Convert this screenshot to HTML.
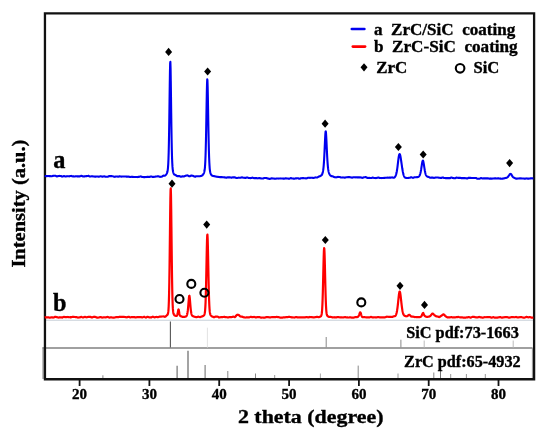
<!DOCTYPE html>
<html><head><meta charset="utf-8"><style>
html,body{margin:0;padding:0;background:#fff;}
svg{display:block;}
text{font-family:"Liberation Serif","Times New Roman",serif;font-weight:bold;fill:#000;stroke:#000;stroke-width:0.35px;}
</style></head><body>
<svg width="550" height="436" viewBox="0 0 550 436">
<rect x="0" y="0" width="550" height="436" fill="#fff"/>
<!-- reference boxes -->
<line x1="46" y1="320.2" x2="533" y2="320.2" stroke="#c9d0d8" stroke-width="1.1"/>
<line x1="42.5" y1="348" x2="532.5" y2="348" stroke="#808080" stroke-width="1.6"/>
<line x1="532.4" y1="347.9" x2="532.4" y2="378" stroke="#999" stroke-width="1"/>
<line x1="170.4" y1="321.5" x2="170.4" y2="347.5" stroke="#555" stroke-width="1.1"/>
<line x1="207.4" y1="327.7" x2="207.4" y2="347.5" stroke="#e2e2e2" stroke-width="1.0"/>
<line x1="326.2" y1="337.0" x2="326.2" y2="347.5" stroke="#888" stroke-width="1.0"/>
<line x1="400.9" y1="339.7" x2="400.9" y2="347.5" stroke="#888" stroke-width="1.0"/>
<line x1="424.2" y1="340.5" x2="424.2" y2="347.5" stroke="#bbb" stroke-width="1.0"/>
<line x1="513.2" y1="340.5" x2="513.2" y2="347.5" stroke="#bbb" stroke-width="1.0"/>
<line x1="102.9" y1="375.3" x2="102.9" y2="378.5" stroke="#888" stroke-width="1.0"/>
<line x1="177.1" y1="365.7" x2="177.1" y2="378.5" stroke="#666" stroke-width="1.1"/>
<line x1="188.0" y1="350.8" x2="188.0" y2="378.5" stroke="#666" stroke-width="1.2"/>
<line x1="205.1" y1="365.0" x2="205.1" y2="378.5" stroke="#777" stroke-width="1.1"/>
<line x1="227.8" y1="371.0" x2="227.8" y2="378.5" stroke="#888" stroke-width="1.0"/>
<line x1="255.5" y1="373.5" x2="255.5" y2="378.5" stroke="#888" stroke-width="1.0"/>
<line x1="274.7" y1="375.0" x2="274.7" y2="378.5" stroke="#999" stroke-width="1.0"/>
<line x1="320.4" y1="373.5" x2="320.4" y2="378.5" stroke="#aaa" stroke-width="1.0"/>
<line x1="358.2" y1="365.6" x2="358.2" y2="378.5" stroke="#888" stroke-width="1.0"/>
<line x1="398.0" y1="373.5" x2="398.0" y2="378.5" stroke="#999" stroke-width="1.0"/>
<line x1="433.8" y1="372.5" x2="433.8" y2="378.5" stroke="#888" stroke-width="1.0"/>
<line x1="440.5" y1="368.5" x2="440.5" y2="378.5" stroke="#777" stroke-width="1.0"/>
<line x1="450.7" y1="374.0" x2="450.7" y2="378.5" stroke="#999" stroke-width="1.0"/>
<line x1="466.4" y1="374.0" x2="466.4" y2="378.5" stroke="#999" stroke-width="1.0"/>
<line x1="485.3" y1="374.0" x2="485.3" y2="378.5" stroke="#999" stroke-width="1.0"/>
<!-- frame -->
<line x1="43.1" y1="347.3" x2="43.1" y2="379" stroke="#8a8a8a" stroke-width="1.3"/>
<path d="M44.95,13.35 H534.1 V379.25 H44.95 Z" fill="none" stroke="#111" stroke-width="2.3" stroke-linejoin="miter"/>
<!-- curves -->
<polyline points="44.69,175.88 44.90,175.93 45.11,175.96 45.32,175.94 45.53,176.04 45.74,176.08 45.95,176.07 46.16,176.12 46.37,176.10 46.58,176.17 46.78,176.14 46.99,176.15 47.20,176.11 47.41,176.07 47.62,176.06 47.83,176.02 48.04,175.97 48.25,176.01 48.46,175.97 48.67,176.00 48.88,176.10 49.09,176.06 49.30,176.10 49.51,176.13 49.72,176.23 49.93,176.17 50.14,176.15 50.35,176.24 50.55,176.17 50.76,176.24 50.97,176.23 51.18,176.25 51.39,176.27 51.60,176.23 51.81,176.25 52.02,176.13 52.23,176.15 52.44,176.04 52.65,175.98 52.86,175.84 53.07,175.85 53.28,175.83 53.49,175.74 53.70,175.76 53.91,175.78 54.12,175.80 54.33,175.74 54.53,175.72 54.74,175.73 54.95,175.76 55.16,175.77 55.37,175.76 55.58,175.82 55.79,175.93 56.00,176.04 56.21,176.17 56.42,176.25 56.63,176.37 56.84,176.46 57.05,176.40 57.26,176.40 57.47,176.27 57.68,176.25 57.89,176.17 58.10,176.08 58.30,176.00 58.51,175.96 58.72,175.97 58.93,176.00 59.14,175.92 59.35,175.91 59.56,175.98 59.77,175.99 59.98,175.95 60.19,175.94 60.40,175.97 60.61,175.94 60.82,176.01 61.03,176.09 61.24,176.24 61.45,176.33 61.66,176.42 61.87,176.54 62.08,176.60 62.28,176.53 62.49,176.54 62.70,176.46 62.91,176.43 63.12,176.32 63.33,176.22 63.54,176.16 63.75,176.11 63.96,176.15 64.17,176.15 64.38,176.17 64.59,176.24 64.80,176.29 65.01,176.39 65.22,176.37 65.43,176.49 65.64,176.44 65.85,176.45 66.05,176.41 66.26,176.40 66.47,176.35 66.68,176.27 66.89,176.21 67.10,176.20 67.31,176.20 67.52,176.16 67.73,176.20 67.94,176.24 68.15,176.22 68.36,176.22 68.57,176.24 68.78,176.31 68.99,176.32 69.20,176.35 69.41,176.32 69.62,176.21 69.83,176.14 70.03,176.07 70.24,176.00 70.45,175.99 70.66,175.97 70.87,175.96 71.08,175.91 71.29,176.01 71.50,176.01 71.71,176.10 71.92,176.20 72.13,176.20 72.34,176.25 72.55,176.34 72.76,176.30 72.97,176.32 73.18,176.37 73.39,176.41 73.60,176.38 73.80,176.44 74.01,176.48 74.22,176.50 74.43,176.48 74.64,176.50 74.85,176.50 75.06,176.40 75.27,176.37 75.48,176.28 75.69,176.25 75.90,176.26 76.11,176.20 76.32,176.28 76.53,176.30 76.74,176.25 76.95,176.37 77.16,176.34 77.37,176.41 77.58,176.43 77.78,176.40 77.99,176.44 78.20,176.43 78.41,176.44 78.62,176.38 78.83,176.42 79.04,176.43 79.25,176.39 79.46,176.37 79.67,176.33 79.88,176.34 80.09,176.27 80.30,176.23 80.51,176.13 80.72,176.03 80.93,175.92 81.14,175.92 81.35,175.90 81.55,175.88 81.76,176.01 81.97,176.07 82.18,176.12 82.39,176.30 82.60,176.31 82.81,176.40 83.02,176.47 83.23,176.46 83.44,176.45 83.65,176.44 83.86,176.40 84.07,176.36 84.28,176.32 84.49,176.29 84.70,176.35 84.91,176.35 85.12,176.32 85.33,176.31 85.53,176.23 85.74,176.18 85.95,176.15 86.16,176.17 86.37,176.06 86.58,176.10 86.79,176.07 87.00,176.10 87.21,176.03 87.42,175.99 87.63,175.95 87.84,175.93 88.05,175.93 88.26,175.88 88.47,175.94 88.68,175.92 88.89,176.03 89.10,176.13 89.30,176.25 89.51,176.44 89.72,176.52 89.93,176.52 90.14,176.53 90.35,176.54 90.56,176.54 90.77,176.49 90.98,176.43 91.19,176.36 91.40,176.26 91.61,176.26 91.82,176.23 92.03,176.27 92.24,176.29 92.45,176.29 92.66,176.33 92.87,176.42 93.08,176.38 93.28,176.48 93.49,176.50 93.70,176.51 93.91,176.47 94.12,176.50 94.33,176.53 94.54,176.56 94.75,176.62 94.96,176.61 95.17,176.58 95.38,176.64 95.59,176.60 95.80,176.60 96.01,176.59 96.22,176.50 96.43,176.55 96.64,176.52 96.85,176.49 97.06,176.49 97.26,176.50 97.47,176.49 97.68,176.55 97.89,176.53 98.10,176.61 98.31,176.65 98.52,176.66 98.73,176.68 98.94,176.72 99.15,176.68 99.36,176.55 99.57,176.54 99.78,176.45 99.99,176.32 100.20,176.29 100.41,176.25 100.62,176.23 100.83,176.30 101.03,176.38 101.24,176.37 101.45,176.49 101.66,176.53 101.87,176.53 102.08,176.63 102.29,176.62 102.50,176.65 102.71,176.60 102.92,176.56 103.13,176.47 103.34,176.47 103.55,176.43 103.76,176.39 103.97,176.34 104.18,176.38 104.39,176.38 104.60,176.40 104.81,176.46 105.01,176.54 105.22,176.63 105.43,176.68 105.64,176.75 105.85,176.77 106.06,176.76 106.27,176.74 106.48,176.76 106.69,176.72 106.90,176.73 107.11,176.75 107.32,176.71 107.53,176.69 107.74,176.74 107.95,176.67 108.16,176.54 108.37,176.43 108.58,176.33 108.78,176.23 108.99,176.12 109.20,176.07 109.41,176.09 109.62,176.15 109.83,176.09 110.04,176.13 110.25,176.11 110.46,176.12 110.67,176.12 110.88,176.15 111.09,176.13 111.30,176.12 111.51,176.14 111.72,176.16 111.93,176.21 112.14,176.18 112.35,176.18 112.56,176.24 112.76,176.24 112.97,176.29 113.18,176.28 113.39,176.41 113.60,176.52 113.81,176.60 114.02,176.79 114.23,176.79 114.44,176.82 114.65,176.85 114.86,176.79 115.07,176.78 115.28,176.68 115.49,176.58 115.70,176.50 115.91,176.51 116.12,176.44 116.33,176.48 116.53,176.46 116.74,176.53 116.95,176.49 117.16,176.52 117.37,176.55 117.58,176.63 117.79,176.63 118.00,176.61 118.21,176.57 118.42,176.61 118.63,176.60 118.84,176.52 119.05,176.41 119.26,176.37 119.47,176.35 119.68,176.34 119.89,176.33 120.10,176.35 120.31,176.44 120.51,176.49 120.72,176.45 120.93,176.56 121.14,176.54 121.35,176.58 121.56,176.60 121.77,176.60 121.98,176.50 122.19,176.51 122.40,176.52 122.61,176.54 122.82,176.44 123.03,176.46 123.24,176.51 123.45,176.44 123.66,176.46 123.87,176.46 124.08,176.49 124.28,176.51 124.49,176.43 124.70,176.49 124.91,176.49 125.12,176.50 125.33,176.49 125.54,176.55 125.75,176.53 125.96,176.57 126.17,176.59 126.38,176.67 126.59,176.66 126.80,176.64 127.01,176.64 127.22,176.69 127.43,176.68 127.64,176.69 127.85,176.66 128.06,176.68 128.26,176.64 128.47,176.70 128.68,176.64 128.89,176.72 129.10,176.79 129.31,176.83 129.52,176.82 129.73,176.87 129.94,176.97 130.15,176.96 130.36,176.99 130.57,176.97 130.78,176.91 130.99,176.92 131.20,176.88 131.41,176.81 131.62,176.79 131.83,176.75 132.03,176.78 132.24,176.85 132.45,176.79 132.66,176.87 132.87,176.86 133.08,176.90 133.29,176.98 133.50,176.96 133.71,176.95 133.92,176.96 134.13,177.01 134.34,177.00 134.55,176.93 134.76,176.94 134.97,177.01 135.18,176.93 135.39,176.96 135.60,176.95 135.81,177.00 136.01,176.99 136.22,177.03 136.43,177.03 136.64,177.01 136.85,177.03 137.06,177.03 137.27,177.11 137.48,177.02 137.69,176.98 137.90,177.04 138.11,176.92 138.32,176.94 138.53,176.82 138.74,176.84 138.95,176.80 139.16,176.85 139.37,176.79 139.58,176.73 139.78,176.67 139.99,176.61 140.20,176.49 140.41,176.47 140.62,176.43 140.83,176.41 141.04,176.52 141.25,176.58 141.46,176.70 141.67,176.74 141.88,176.88 142.09,176.95 142.30,177.02 142.51,176.96 142.72,177.00 142.93,177.02 143.14,176.99 143.35,177.06 143.56,177.09 143.76,177.07 143.97,177.11 144.18,177.11 144.39,177.07 144.60,177.08 144.81,177.13 145.02,177.06 145.23,177.06 145.44,177.02 145.65,177.03 145.86,177.02 146.07,177.09 146.28,177.05 146.49,177.03 146.70,177.00 146.91,176.91 147.12,176.89 147.33,176.82 147.53,176.79 147.74,176.84 147.95,176.84 148.16,176.86 148.37,176.83 148.58,176.88 148.79,176.86 149.00,176.94 149.21,176.94 149.42,176.89 149.63,176.94 149.84,176.82 150.05,176.75 150.26,176.74 150.47,176.62 150.68,176.58 150.89,176.54 151.10,176.46 151.31,176.53 151.51,176.52 151.72,176.61 151.93,176.68 152.14,176.81 152.35,176.90 152.56,176.92 152.77,176.94 152.98,176.96 153.19,176.96 153.40,176.90 153.61,176.87 153.82,176.89 154.03,176.85 154.24,176.84 154.45,176.82 154.66,176.80 154.87,176.74 155.08,176.69 155.28,176.66 155.49,176.63 155.70,176.59 155.91,176.55 156.12,176.50 156.33,176.53 156.54,176.47 156.75,176.47 156.96,176.48 157.17,176.43 157.38,176.34 157.59,176.30 157.80,176.32 158.01,176.22 158.22,176.22 158.43,176.29 158.64,176.36 158.85,176.41 159.06,176.51 159.26,176.63 159.47,176.77 159.68,176.79 159.89,176.84 160.10,176.81 160.31,176.83 160.52,176.73 160.73,176.75 160.94,176.73 161.15,176.77 161.36,176.75 161.57,176.70 161.78,176.71 161.99,176.58 162.20,176.47 162.41,176.30 162.62,176.18 162.83,175.98 163.03,175.82 163.24,175.69 163.45,175.67 163.66,175.66 163.87,175.67 164.08,175.71 164.29,175.73 164.50,175.69 164.71,175.66 164.92,175.67 165.13,175.57 165.34,175.40 165.55,175.24 165.76,174.99 165.97,174.71 166.18,174.41 166.39,174.07 166.60,173.79 166.81,173.43 167.01,172.98 167.22,172.36 167.43,171.61 167.64,170.59 167.85,169.09 168.06,166.87 168.27,163.61 168.48,158.89 168.69,152.16 168.90,143.08 169.11,131.46 169.32,117.43 169.53,101.67 169.74,85.74 169.95,71.92 170.16,63.13 170.37,61.81 170.58,68.32 170.78,80.90 170.99,96.41 171.20,112.50 171.41,127.34 171.62,139.92 171.83,149.96 172.04,157.43 172.25,162.77 172.46,166.40 172.67,168.82 172.88,170.55 173.09,171.70 173.30,172.52 173.51,173.12 173.72,173.65 173.93,174.06 174.14,174.27 174.35,174.53 174.56,174.63 174.76,174.73 174.97,174.84 175.18,174.90 175.39,174.95 175.60,175.01 175.81,175.21 176.02,175.28 176.23,175.47 176.44,175.68 176.65,175.78 176.86,175.92 177.07,176.11 177.28,176.19 177.49,176.17 177.70,176.19 177.91,176.16 178.12,176.10 178.33,176.07 178.53,176.09 178.74,175.97 178.95,175.98 179.16,175.99 179.37,176.04 179.58,176.17 179.79,176.30 180.00,176.42 180.21,176.52 180.42,176.63 180.63,176.62 180.84,176.67 181.05,176.74 181.26,176.62 181.47,176.60 181.68,176.56 181.89,176.48 182.10,176.45 182.31,176.35 182.51,176.33 182.72,176.39 182.93,176.31 183.14,176.41 183.35,176.36 183.56,176.47 183.77,176.45 183.98,176.43 184.19,176.33 184.40,176.23 184.61,176.20 184.82,176.05 185.03,175.95 185.24,175.92 185.45,175.84 185.66,175.68 185.87,175.70 186.08,175.60 186.28,175.54 186.49,175.46 186.70,175.45 186.91,175.48 187.12,175.40 187.33,175.40 187.54,175.44 187.75,175.51 187.96,175.62 188.17,175.79 188.38,175.83 188.59,175.97 188.80,176.16 189.01,176.26 189.22,176.33 189.43,176.30 189.64,176.30 189.85,176.31 190.06,176.17 190.26,176.07 190.47,175.90 190.68,175.74 190.89,175.66 191.10,175.64 191.31,175.63 191.52,175.62 191.73,175.62 191.94,175.64 192.15,175.66 192.36,175.70 192.57,175.76 192.78,175.75 192.99,175.85 193.20,175.95 193.41,176.04 193.62,176.09 193.83,176.29 194.03,176.41 194.24,176.45 194.45,176.55 194.66,176.61 194.87,176.62 195.08,176.70 195.29,176.60 195.50,176.58 195.71,176.43 195.92,176.34 196.13,176.35 196.34,176.30 196.55,176.29 196.76,176.26 196.97,176.25 197.18,176.28 197.39,176.22 197.60,176.28 197.81,176.27 198.01,176.24 198.22,176.27 198.43,176.23 198.64,176.23 198.85,176.22 199.06,176.21 199.27,176.21 199.48,176.23 199.69,176.25 199.90,176.22 200.11,176.17 200.32,176.13 200.53,176.04 200.74,176.07 200.95,175.96 201.16,175.90 201.37,175.88 201.58,175.83 201.79,175.70 201.99,175.60 202.20,175.40 202.41,175.27 202.62,174.99 202.83,174.74 203.04,174.47 203.25,174.22 203.46,173.92 203.67,173.53 203.88,173.10 204.09,172.58 204.30,171.80 204.51,170.85 204.72,169.51 204.93,167.53 205.14,164.63 205.35,160.75 205.56,155.32 205.76,148.32 205.97,139.40 206.18,128.82 206.39,116.98 206.60,104.64 206.81,93.00 207.02,83.98 207.23,79.31 207.44,80.19 207.65,86.43 207.86,96.53 208.07,108.54 208.28,120.91 208.49,132.52 208.70,142.66 208.91,150.99 209.12,157.54 209.33,162.52 209.54,166.18 209.74,168.80 209.95,170.59 210.16,171.87 210.37,172.81 210.58,173.45 210.79,173.92 211.00,174.35 211.21,174.71 211.42,174.94 211.63,175.18 211.84,175.39 212.05,175.57 212.26,175.73 212.47,175.81 212.68,175.92 212.89,175.92 213.10,176.02 213.31,175.99 213.51,176.01 213.72,176.08 213.93,176.06 214.14,176.12 214.35,176.24 214.56,176.28 214.77,176.29 214.98,176.35 215.19,176.43 215.40,176.45 215.61,176.57 215.82,176.54 216.03,176.58 216.24,176.63 216.45,176.68 216.66,176.70 216.87,176.76 217.08,176.79 217.29,176.79 217.49,176.78 217.70,176.89 217.91,176.89 218.12,176.86 218.33,176.93 218.54,177.00 218.75,177.05 218.96,176.99 219.17,177.00 219.38,177.06 219.59,177.07 219.80,177.13 220.01,177.13 220.22,177.09 220.43,177.10 220.64,177.13 220.85,177.17 221.06,177.11 221.26,177.14 221.47,177.12 221.68,177.18 221.89,177.13 222.10,177.22 222.31,177.19 222.52,177.20 222.73,177.16 222.94,177.19 223.15,177.23 223.36,177.28 223.57,177.27 223.78,177.26 223.99,177.35 224.20,177.33 224.41,177.33 224.62,177.31 224.83,177.35 225.04,177.45 225.24,177.43 225.45,177.53 225.66,177.59 225.87,177.60 226.08,177.67 226.29,177.70 226.50,177.68 226.71,177.64 226.92,177.53 227.13,177.46 227.34,177.44 227.55,177.39 227.76,177.35 227.97,177.41 228.18,177.35 228.39,177.41 228.60,177.42 228.81,177.33 229.01,177.41 229.22,177.35 229.43,177.33 229.64,177.34 229.85,177.33 230.06,177.40 230.27,177.43 230.48,177.52 230.69,177.57 230.90,177.54 231.11,177.61 231.32,177.63 231.53,177.62 231.74,177.61 231.95,177.57 232.16,177.56 232.37,177.46 232.58,177.37 232.79,177.33 232.99,177.32 233.20,177.33 233.41,177.30 233.62,177.36 233.83,177.32 234.04,177.38 234.25,177.39 234.46,177.36 234.67,177.43 234.88,177.41 235.09,177.43 235.30,177.49 235.51,177.57 235.72,177.65 235.93,177.72 236.14,177.90 236.35,177.98 236.56,177.99 236.76,178.02 236.97,177.97 237.18,177.99 237.39,177.92 237.60,177.81 237.81,177.81 238.02,177.78 238.23,177.68 238.44,177.74 238.65,177.69 238.86,177.67 239.07,177.73 239.28,177.70 239.49,177.75 239.70,177.75 239.91,177.71 240.12,177.76 240.33,177.79 240.54,177.72 240.74,177.67 240.95,177.64 241.16,177.52 241.37,177.46 241.58,177.41 241.79,177.41 242.00,177.34 242.21,177.36 242.42,177.47 242.63,177.51 242.84,177.55 243.05,177.67 243.26,177.72 243.47,177.73 243.68,177.79 243.89,177.78 244.10,177.79 244.31,177.77 244.51,177.77 244.72,177.87 244.93,177.90 245.14,177.88 245.35,177.91 245.56,177.92 245.77,177.85 245.98,177.84 246.19,177.76 246.40,177.66 246.61,177.56 246.82,177.55 247.03,177.49 247.24,177.53 247.45,177.51 247.66,177.60 247.87,177.66 248.08,177.77 248.29,177.88 248.49,177.91 248.70,177.96 248.91,178.03 249.12,178.00 249.33,178.04 249.54,178.01 249.75,178.01 249.96,178.06 250.17,178.11 250.38,178.11 250.59,178.08 250.80,178.07 251.01,178.00 251.22,177.97 251.43,177.90 251.64,177.88 251.85,177.72 252.06,177.75 252.26,177.67 252.47,177.66 252.68,177.68 252.89,177.81 253.10,177.81 253.31,177.94 253.52,178.02 253.73,178.06 253.94,178.11 254.15,178.21 254.36,178.19 254.57,178.18 254.78,178.18 254.99,178.09 255.20,178.13 255.41,178.12 255.62,178.06 255.83,178.08 256.04,178.14 256.24,178.09 256.45,178.17 256.66,178.14 256.87,178.23 257.08,178.23 257.29,178.28 257.50,178.29 257.71,178.34 257.92,178.32 258.13,178.27 258.34,178.25 258.55,178.19 258.76,178.18 258.97,178.09 259.18,178.10 259.39,178.10 259.60,178.10 259.81,178.10 260.01,178.16 260.22,178.27 260.43,178.28 260.64,178.39 260.85,178.40 261.06,178.47 261.27,178.47 261.48,178.46 261.69,178.44 261.90,178.42 262.11,178.48 262.32,178.51 262.53,178.53 262.74,178.47 262.95,178.47 263.16,178.53 263.37,178.44 263.58,178.33 263.79,178.25 263.99,178.09 264.20,178.05 264.41,178.01 264.62,177.99 264.83,177.96 265.04,177.96 265.25,178.02 265.46,178.06 265.67,178.00 265.88,177.99 266.09,178.01 266.30,178.09 266.51,178.06 266.72,178.12 266.93,178.24 267.14,178.30 267.35,178.36 267.56,178.50 267.76,178.50 267.97,178.57 268.18,178.63 268.39,178.60 268.60,178.61 268.81,178.71 269.02,178.74 269.23,178.85 269.44,178.80 269.65,178.90 269.86,178.87 270.07,178.90 270.28,178.81 270.49,178.76 270.70,178.63 270.91,178.51 271.12,178.45 271.33,178.42 271.54,178.35 271.74,178.35 271.95,178.38 272.16,178.38 272.37,178.44 272.58,178.50 272.79,178.53 273.00,178.56 273.21,178.55 273.42,178.53 273.63,178.55 273.84,178.60 274.05,178.61 274.26,178.67 274.47,178.67 274.68,178.74 274.89,178.74 275.10,178.75 275.31,178.75 275.51,178.71 275.72,178.66 275.93,178.61 276.14,178.54 276.35,178.58 276.56,178.52 276.77,178.47 276.98,178.55 277.19,178.52 277.40,178.52 277.61,178.51 277.82,178.48 278.03,178.57 278.24,178.49 278.45,178.52 278.66,178.58 278.87,178.49 279.08,178.52 279.29,178.51 279.49,178.47 279.70,178.53 279.91,178.47 280.12,178.43 280.33,178.47 280.54,178.42 280.75,178.50 280.96,178.52 281.17,178.53 281.38,178.45 281.59,178.52 281.80,178.48 282.01,178.50 282.22,178.49 282.43,178.50 282.64,178.51 282.85,178.58 283.06,178.56 283.26,178.68 283.47,178.61 283.68,178.72 283.89,178.64 284.10,178.61 284.31,178.65 284.52,178.59 284.73,178.57 284.94,178.49 285.15,178.47 285.36,178.39 285.57,178.44 285.78,178.42 285.99,178.47 286.20,178.38 286.41,178.40 286.62,178.47 286.83,178.50 287.04,178.46 287.24,178.49 287.45,178.48 287.66,178.48 287.87,178.53 288.08,178.60 288.29,178.60 288.50,178.68 288.71,178.76 288.92,178.74 289.13,178.76 289.34,178.70 289.55,178.64 289.76,178.57 289.97,178.47 290.18,178.38 290.39,178.24 290.60,178.15 290.81,178.14 291.01,178.12 291.22,178.18 291.43,178.28 291.64,178.36 291.85,178.40 292.06,178.47 292.27,178.51 292.48,178.54 292.69,178.57 292.90,178.56 293.11,178.64 293.32,178.63 293.53,178.63 293.74,178.66 293.95,178.63 294.16,178.71 294.37,178.71 294.58,178.65 294.79,178.64 294.99,178.54 295.20,178.47 295.41,178.41 295.62,178.35 295.83,178.35 296.04,178.34 296.25,178.35 296.46,178.28 296.67,178.33 296.88,178.28 297.09,178.26 297.30,178.26 297.51,178.24 297.72,178.21 297.93,178.23 298.14,178.29 298.35,178.36 298.56,178.46 298.76,178.47 298.97,178.62 299.18,178.67 299.39,178.70 299.60,178.73 299.81,178.62 300.02,178.62 300.23,178.56 300.44,178.39 300.65,178.36 300.86,178.32 301.07,178.21 301.28,178.24 301.49,178.24 301.70,178.19 301.91,178.15 302.12,178.15 302.33,178.20 302.54,178.15 302.74,178.13 302.95,178.14 303.16,178.18 303.37,178.12 303.58,178.11 303.79,178.23 304.00,178.19 304.21,178.22 304.42,178.29 304.63,178.23 304.84,178.20 305.05,178.28 305.26,178.23 305.47,178.25 305.68,178.35 305.89,178.31 306.10,178.40 306.31,178.35 306.52,178.34 306.72,178.30 306.93,178.28 307.14,178.19 307.35,178.08 307.56,177.99 307.77,177.88 307.98,177.86 308.19,177.83 308.40,177.80 308.61,177.81 308.82,177.74 309.03,177.78 309.24,177.79 309.45,177.81 309.66,177.90 309.87,177.89 310.08,177.88 310.29,177.83 310.49,177.77 310.70,177.79 310.91,177.74 311.12,177.81 311.33,177.73 311.54,177.72 311.75,177.77 311.96,177.69 312.17,177.79 312.38,177.77 312.59,177.86 312.80,177.86 313.01,177.98 313.22,177.96 313.43,177.96 313.64,177.97 313.85,177.92 314.06,177.82 314.27,177.73 314.47,177.69 314.68,177.55 314.89,177.57 315.10,177.47 315.31,177.42 315.52,177.43 315.73,177.42 315.94,177.46 316.15,177.51 316.36,177.53 316.57,177.54 316.78,177.53 316.99,177.52 317.20,177.50 317.41,177.37 317.62,177.28 317.83,177.11 318.04,176.92 318.24,176.79 318.45,176.73 318.66,176.61 318.87,176.54 319.08,176.49 319.29,176.47 319.50,176.36 319.71,176.30 319.92,176.22 320.13,176.10 320.34,176.04 320.55,175.91 320.76,175.78 320.97,175.63 321.18,175.49 321.39,175.34 321.60,175.08 321.81,174.91 322.02,174.49 322.22,174.14 322.43,173.53 322.64,172.93 322.85,172.03 323.06,170.92 323.27,169.57 323.48,167.83 323.69,165.60 323.90,162.86 324.11,159.58 324.32,155.64 324.53,151.34 324.74,146.63 324.95,141.93 325.16,137.43 325.37,133.84 325.58,131.66 325.79,131.34 325.99,132.88 326.20,136.03 326.41,140.15 326.62,144.72 326.83,149.44 327.04,153.74 327.25,157.70 327.46,161.22 327.67,164.09 327.88,166.52 328.09,168.39 328.30,169.93 328.51,171.18 328.72,172.04 328.93,172.81 329.14,173.42 329.35,173.82 329.56,174.26 329.77,174.62 329.97,174.92 330.18,175.21 330.39,175.45 330.60,175.60 330.81,175.78 331.02,175.95 331.23,176.10 331.44,176.09 331.65,176.18 331.86,176.16 332.07,176.26 332.28,176.25 332.49,176.29 332.70,176.36 332.91,176.37 333.12,176.53 333.33,176.65 333.54,176.79 333.74,176.86 333.95,176.97 334.16,177.05 334.37,177.18 334.58,177.16 334.79,177.18 335.00,177.22 335.21,177.27 335.42,177.25 335.63,177.28 335.84,177.34 336.05,177.36 336.26,177.32 336.47,177.28 336.68,177.32 336.89,177.22 337.10,177.12 337.31,177.02 337.52,177.00 337.72,176.91 337.93,176.87 338.14,176.88 338.35,176.92 338.56,176.96 338.77,176.96 338.98,177.05 339.19,177.04 339.40,177.04 339.61,177.07 339.82,177.08 340.03,177.12 340.24,177.17 340.45,177.26 340.66,177.34 340.87,177.45 341.08,177.45 341.29,177.55 341.49,177.51 341.70,177.57 341.91,177.48 342.12,177.50 342.33,177.48 342.54,177.48 342.75,177.42 342.96,177.42 343.17,177.40 343.38,177.45 343.59,177.47 343.80,177.44 344.01,177.48 344.22,177.51 344.43,177.61 344.64,177.58 344.85,177.60 345.06,177.57 345.27,177.58 345.47,177.55 345.68,177.48 345.89,177.34 346.10,177.32 346.31,177.28 346.52,177.21 346.73,177.28 346.94,177.23 347.15,177.20 347.36,177.21 347.57,177.18 347.78,177.14 347.99,177.15 348.20,177.10 348.41,177.08 348.62,177.06 348.83,177.12 349.04,177.12 349.24,177.17 349.45,177.17 349.66,177.16 349.87,177.18 350.08,177.20 350.29,177.21 350.50,177.31 350.71,177.34 350.92,177.38 351.13,177.50 351.34,177.57 351.55,177.57 351.76,177.67 351.97,177.62 352.18,177.68 352.39,177.54 352.60,177.49 352.81,177.41 353.02,177.39 353.22,177.33 353.43,177.26 353.64,177.21 353.85,177.24 354.06,177.27 354.27,177.22 354.48,177.32 354.69,177.32 354.90,177.34 355.11,177.32 355.32,177.32 355.53,177.36 355.74,177.29 355.95,177.30 356.16,177.30 356.37,177.31 356.58,177.39 356.79,177.32 356.99,177.39 357.20,177.36 357.41,177.41 357.62,177.40 357.83,177.39 358.04,177.41 358.25,177.33 358.46,177.35 358.67,177.36 358.88,177.37 359.09,177.40 359.30,177.42 359.51,177.41 359.72,177.43 359.93,177.41 360.14,177.38 360.35,177.40 360.56,177.42 360.77,177.44 360.97,177.43 361.18,177.49 361.39,177.59 361.60,177.63 361.81,177.77 362.02,177.74 362.23,177.84 362.44,177.83 362.65,177.77 362.86,177.74 363.07,177.63 363.28,177.57 363.49,177.46 363.70,177.34 363.91,177.31 364.12,177.29 364.33,177.22 364.54,177.27 364.74,177.26 364.95,177.26 365.16,177.22 365.37,177.16 365.58,177.13 365.79,177.17 366.00,177.14 366.21,177.26 366.42,177.35 366.63,177.51 366.84,177.60 367.05,177.73 367.26,177.90 367.47,177.94 367.68,177.92 367.89,177.94 368.10,177.93 368.31,177.94 368.52,177.92 368.72,177.90 368.93,177.96 369.14,177.95 369.35,177.94 369.56,177.90 369.77,177.90 369.98,177.97 370.19,178.00 370.40,178.00 370.61,177.97 370.82,178.04 371.03,178.02 371.24,178.01 371.45,177.99 371.66,177.92 371.87,177.87 372.08,177.80 372.29,177.75 372.49,177.60 372.70,177.62 372.91,177.65 373.12,177.65 373.33,177.70 373.54,177.79 373.75,177.79 373.96,177.95 374.17,177.99 374.38,178.04 374.59,178.03 374.80,178.06 375.01,178.01 375.22,178.05 375.43,178.02 375.64,178.09 375.85,178.08 376.06,178.05 376.27,178.08 376.47,178.03 376.68,178.00 376.89,177.89 377.10,177.87 377.31,177.76 377.52,177.66 377.73,177.52 377.94,177.55 378.15,177.46 378.36,177.55 378.57,177.59 378.78,177.62 378.99,177.74 379.20,177.86 379.41,177.90 379.62,177.92 379.83,177.98 380.04,177.94 380.24,178.01 380.45,177.97 380.66,177.96 380.87,178.06 381.08,177.99 381.29,178.02 381.50,178.08 381.71,178.01 381.92,178.04 382.13,178.06 382.34,178.01 382.55,177.96 382.76,177.98 382.97,177.97 383.18,177.94 383.39,177.95 383.60,177.91 383.81,177.91 384.02,177.95 384.22,177.93 384.43,177.81 384.64,177.82 384.85,177.81 385.06,177.87 385.27,177.80 385.48,177.78 385.69,177.82 385.90,177.73 386.11,177.78 386.32,177.70 386.53,177.72 386.74,177.70 386.95,177.64 387.16,177.70 387.37,177.67 387.58,177.66 387.79,177.65 387.99,177.72 388.20,177.71 388.41,177.68 388.62,177.73 388.83,177.66 389.04,177.68 389.25,177.62 389.46,177.63 389.67,177.67 389.88,177.61 390.09,177.56 390.30,177.57 390.51,177.60 390.72,177.55 390.93,177.59 391.14,177.48 391.35,177.53 391.56,177.48 391.77,177.48 391.97,177.42 392.18,177.40 392.39,177.43 392.60,177.53 392.81,177.53 393.02,177.61 393.23,177.73 393.44,177.77 393.65,177.78 393.86,177.74 394.07,177.64 394.28,177.57 394.49,177.41 394.70,177.21 394.91,176.97 395.12,176.66 395.33,176.33 395.54,175.95 395.74,175.49 395.95,174.90 396.16,174.33 396.37,173.50 396.58,172.59 396.79,171.53 397.00,170.22 397.21,168.89 397.42,167.35 397.63,165.62 397.84,163.85 398.05,162.14 398.26,160.40 398.47,158.74 398.68,157.21 398.89,155.97 399.10,154.95 399.31,154.30 399.52,154.01 399.72,154.06 399.93,154.34 400.14,155.06 400.35,155.85 400.56,157.01 400.77,158.16 400.98,159.55 401.19,160.98 401.40,162.48 401.61,163.94 401.82,165.45 402.03,166.86 402.24,168.30 402.45,169.54 402.66,170.84 402.87,171.93 403.08,172.88 403.29,173.87 403.49,174.60 403.70,175.26 403.91,175.85 404.12,176.30 404.33,176.70 404.54,177.05 404.75,177.32 404.96,177.47 405.17,177.64 405.38,177.74 405.59,177.82 405.80,177.85 406.01,177.88 406.22,177.91 406.43,177.97 406.64,177.95 406.85,178.02 407.06,177.99 407.27,178.02 407.47,178.02 407.68,178.03 407.89,177.98 408.10,177.97 408.31,177.98 408.52,177.88 408.73,177.88 408.94,177.86 409.15,177.77 409.36,177.80 409.57,177.76 409.78,177.76 409.99,177.66 410.20,177.61 410.41,177.51 410.62,177.38 410.83,177.34 411.04,177.29 411.25,177.26 411.45,177.30 411.66,177.37 411.87,177.45 412.08,177.55 412.29,177.58 412.50,177.73 412.71,177.78 412.92,177.84 413.13,177.73 413.34,177.70 413.55,177.71 413.76,177.56 413.97,177.49 414.18,177.39 414.39,177.29 414.60,177.25 414.81,177.24 415.02,177.27 415.22,177.22 415.43,177.24 415.64,177.19 415.85,177.22 416.06,177.20 416.27,177.20 416.48,177.19 416.69,177.08 416.90,177.16 417.11,177.13 417.32,177.10 417.53,177.13 417.74,177.08 417.95,177.05 418.16,177.05 418.37,176.94 418.58,176.82 418.79,176.58 419.00,176.37 419.20,176.14 419.41,175.84 419.62,175.48 419.83,174.98 420.04,174.46 420.25,173.77 420.46,172.94 420.67,172.05 420.88,170.90 421.09,169.74 421.30,168.39 421.51,166.98 421.72,165.59 421.93,164.20 422.14,162.92 422.35,161.82 422.56,161.09 422.77,160.65 422.97,160.58 423.18,160.98 423.39,161.85 423.60,162.86 423.81,164.08 424.02,165.44 424.23,166.88 424.44,168.18 424.65,169.49 424.86,170.71 425.07,171.76 425.28,172.76 425.49,173.62 425.70,174.29 425.91,174.82 426.12,175.27 426.33,175.59 426.54,175.91 426.75,176.14 426.95,176.33 427.16,176.48 427.37,176.63 427.58,176.67 427.79,176.79 428.00,176.88 428.21,176.84 428.42,176.91 428.63,177.02 428.84,176.98 429.05,177.13 429.26,177.21 429.47,177.27 429.68,177.45 429.89,177.50 430.10,177.67 430.31,177.68 430.52,177.77 430.72,177.76 430.93,177.67 431.14,177.66 431.35,177.59 431.56,177.61 431.77,177.51 431.98,177.49 432.19,177.50 432.40,177.59 432.61,177.56 432.82,177.62 433.03,177.68 433.24,177.75 433.45,177.78 433.66,177.87 433.87,177.83 434.08,177.84 434.29,177.86 434.50,177.76 434.70,177.70 434.91,177.70 435.12,177.60 435.33,177.61 435.54,177.58 435.75,177.53 435.96,177.53 436.17,177.49 436.38,177.55 436.59,177.49 436.80,177.46 437.01,177.43 437.22,177.43 437.43,177.49 437.64,177.43 437.85,177.50 438.06,177.55 438.27,177.59 438.47,177.64 438.68,177.68 438.89,177.69 439.10,177.77 439.31,177.78 439.52,177.77 439.73,177.77 439.94,177.88 440.15,177.85 440.36,177.89 440.57,177.97 440.78,178.01 440.99,177.98 441.20,177.91 441.41,177.93 441.62,177.77 441.83,177.69 442.04,177.66 442.25,177.57 442.45,177.51 442.66,177.43 442.87,177.53 443.08,177.54 443.29,177.58 443.50,177.75 443.71,177.86 443.92,177.86 444.13,177.97 444.34,178.04 444.55,177.99 444.76,178.00 444.97,178.07 445.18,178.06 445.39,178.14 445.60,178.15 445.81,178.17 446.02,178.17 446.22,178.12 446.43,178.17 446.64,178.15 446.85,178.13 447.06,178.13 447.27,178.09 447.48,178.07 447.69,178.13 447.90,178.08 448.11,178.06 448.32,178.15 448.53,178.11 448.74,178.14 448.95,178.11 449.16,178.10 449.37,178.12 449.58,178.18 449.79,178.11 450.00,178.13 450.20,177.98 450.41,177.93 450.62,177.74 450.83,177.66 451.04,177.54 451.25,177.50 451.46,177.53 451.67,177.55 451.88,177.63 452.09,177.68 452.30,177.79 452.51,177.88 452.72,178.02 452.93,177.99 453.14,178.05 453.35,178.10 453.56,178.10 453.77,178.10 453.97,178.21 454.18,178.16 454.39,178.20 454.60,178.21 454.81,178.27 455.02,178.31 455.23,178.20 455.44,178.12 455.65,178.06 455.86,177.87 456.07,177.75 456.28,177.73 456.49,177.63 456.70,177.67 456.91,177.64 457.12,177.71 457.33,177.77 457.54,177.77 457.75,177.79 457.95,177.85 458.16,177.88 458.37,177.83 458.58,177.85 458.79,177.87 459.00,177.88 459.21,177.86 459.42,177.91 459.63,177.87 459.84,177.94 460.05,177.89 460.26,177.88 460.47,177.89 460.68,177.92 460.89,177.97 461.10,178.08 461.31,178.08 461.52,178.11 461.72,178.18 461.93,178.19 462.14,178.17 462.35,178.11 462.56,178.11 462.77,178.12 462.98,178.08 463.19,178.08 463.40,178.06 463.61,178.07 463.82,178.12 464.03,178.11 464.24,178.11 464.45,178.12 464.66,178.15 464.87,178.17 465.08,178.11 465.29,178.20 465.50,178.17 465.70,178.18 465.91,178.28 466.12,178.30 466.33,178.31 466.54,178.32 466.75,178.40 466.96,178.43 467.17,178.42 467.38,178.36 467.59,178.34 467.80,178.21 468.01,178.15 468.22,178.02 468.43,177.91 468.64,177.90 468.85,177.85 469.06,177.81 469.27,177.84 469.47,177.83 469.68,177.88 469.89,177.94 470.10,177.95 470.31,177.93 470.52,177.89 470.73,177.90 470.94,177.91 471.15,177.93 471.36,177.97 471.57,177.93 471.78,177.99 471.99,177.99 472.20,178.02 472.41,178.04 472.62,178.00 472.83,178.02 473.04,177.99 473.25,178.02 473.45,178.04 473.66,177.98 473.87,178.03 474.08,178.03 474.29,178.00 474.50,178.01 474.71,178.06 474.92,178.01 475.13,177.99 475.34,177.99 475.55,178.01 475.76,178.00 475.97,178.01 476.18,178.07 476.39,178.16 476.60,178.32 476.81,178.47 477.02,178.54 477.22,178.70 477.43,178.73 477.64,178.81 477.85,178.80 478.06,178.71 478.27,178.76 478.48,178.71 478.69,178.67 478.90,178.73 479.11,178.73 479.32,178.72 479.53,178.68 479.74,178.66 479.95,178.53 480.16,178.43 480.37,178.32 480.58,178.24 480.79,178.17 481.00,178.08 481.20,178.08 481.41,178.14 481.62,178.19 481.83,178.23 482.04,178.35 482.25,178.41 482.46,178.44 482.67,178.45 482.88,178.48 483.09,178.42 483.30,178.47 483.51,178.38 483.72,178.43 483.93,178.38 484.14,178.32 484.35,178.30 484.56,178.34 484.77,178.33 484.97,178.36 485.18,178.30 485.39,178.38 485.60,178.34 485.81,178.34 486.02,178.37 486.23,178.36 486.44,178.35 486.65,178.34 486.86,178.37 487.07,178.33 487.28,178.36 487.49,178.43 487.70,178.36 487.91,178.36 488.12,178.44 488.33,178.41 488.54,178.46 488.75,178.51 488.95,178.57 489.16,178.57 489.37,178.66 489.58,178.61 489.79,178.70 490.00,178.65 490.21,178.68 490.42,178.64 490.63,178.68 490.84,178.64 491.05,178.65 491.26,178.62 491.47,178.67 491.68,178.67 491.89,178.60 492.10,178.63 492.31,178.62 492.52,178.52 492.72,178.48 492.93,178.54 493.14,178.53 493.35,178.44 493.56,178.50 493.77,178.50 493.98,178.42 494.19,178.45 494.40,178.38 494.61,178.41 494.82,178.37 495.03,178.36 495.24,178.33 495.45,178.40 495.66,178.42 495.87,178.40 496.08,178.40 496.29,178.43 496.50,178.46 496.70,178.54 496.91,178.51 497.12,178.52 497.33,178.48 497.54,178.39 497.75,178.39 497.96,178.42 498.17,178.39 498.38,178.39 498.59,178.37 498.80,178.38 499.01,178.42 499.22,178.49 499.43,178.50 499.64,178.52 499.85,178.60 500.06,178.60 500.27,178.63 500.47,178.67 500.68,178.64 500.89,178.66 501.10,178.66 501.31,178.71 501.52,178.74 501.73,178.75 501.94,178.79 502.15,178.69 502.36,178.69 502.57,178.62 502.78,178.66 502.99,178.57 503.20,178.52 503.41,178.49 503.62,178.37 503.83,178.45 504.04,178.37 504.25,178.35 504.45,178.28 504.66,178.25 504.87,178.15 505.08,178.09 505.29,178.03 505.50,178.04 505.71,177.98 505.92,177.91 506.13,177.89 506.34,177.86 506.55,177.78 506.76,177.72 506.97,177.64 507.18,177.49 507.39,177.34 507.60,177.12 507.81,176.99 508.02,176.78 508.22,176.50 508.43,176.19 508.64,175.91 508.85,175.66 509.06,175.34 509.27,175.00 509.48,174.68 509.69,174.41 509.90,174.15 510.11,174.04 510.32,173.98 510.53,173.87 510.74,173.96 510.95,174.11 511.16,174.30 511.37,174.55 511.58,174.86 511.79,175.25 512.00,175.63 512.20,175.97 512.41,176.26 512.62,176.60 512.83,176.87 513.04,177.04 513.25,177.26 513.46,177.37 513.67,177.48 513.88,177.58 514.09,177.76 514.30,177.87 514.51,177.91 514.72,178.03 514.93,178.17 515.14,178.28 515.35,178.43 515.56,178.46 515.77,178.56 515.98,178.60 516.18,178.59 516.39,178.64 516.60,178.59 516.81,178.59 517.02,178.58 517.23,178.54 517.44,178.51 517.65,178.59 517.86,178.57 518.07,178.54 518.28,178.52 518.49,178.51 518.70,178.46 518.91,178.41 519.12,178.44 519.33,178.47 519.54,178.39 519.75,178.48 519.95,178.41 520.16,178.47 520.37,178.44 520.58,178.38 520.79,178.37 521.00,178.44 521.21,178.45 521.42,178.43 521.63,178.42 521.84,178.43 522.05,178.48 522.26,178.50 522.47,178.52 522.68,178.48 522.89,178.54 523.10,178.55 523.31,178.53 523.52,178.49 523.73,178.54 523.93,178.62 524.14,178.62 524.35,178.70 524.56,178.68 524.77,178.69 524.98,178.62 525.19,178.63 525.40,178.61 525.61,178.59 525.82,178.55 526.03,178.45 526.24,178.45 526.45,178.49 526.66,178.41 526.87,178.43 527.08,178.47 527.29,178.57 527.50,178.57 527.70,178.64 527.91,178.68 528.12,178.69 528.33,178.61 528.54,178.66 528.75,178.64 528.96,178.60 529.17,178.58 529.38,178.54 529.59,178.49 529.80,178.50 530.01,178.47 530.22,178.41 530.43,178.41 530.64,178.45 530.85,178.35 531.06,178.33 531.27,178.35 531.48,178.31 531.68,178.31 531.89,178.29 532.10,178.32 532.31,178.31 532.52,178.36 532.73,178.40 532.94,178.47 533.15,178.50 533.36,178.47" fill="none" stroke="#0000f0" stroke-width="2.1" stroke-linejoin="round"/>
<polyline points="44.69,317.34 44.90,317.28 45.11,317.32 45.32,317.32 45.53,317.35 45.74,317.37 45.95,317.40 46.16,317.35 46.37,317.42 46.58,317.37 46.78,317.40 46.99,317.38 47.20,317.39 47.41,317.42 47.62,317.42 47.83,317.42 48.04,317.46 48.25,317.44 48.46,317.39 48.67,317.43 48.88,317.47 49.09,317.54 49.30,317.56 49.51,317.54 49.72,317.50 49.93,317.58 50.14,317.54 50.35,317.54 50.55,317.53 50.76,317.49 50.97,317.44 51.18,317.46 51.39,317.39 51.60,317.38 51.81,317.43 52.02,317.37 52.23,317.40 52.44,317.48 52.65,317.43 52.86,317.54 53.07,317.54 53.28,317.53 53.49,317.51 53.70,317.52 53.91,317.45 54.12,317.25 54.33,317.15 54.53,317.03 54.74,316.92 54.95,316.83 55.16,316.79 55.37,316.84 55.58,316.90 55.79,316.88 56.00,316.96 56.21,317.08 56.42,317.14 56.63,317.17 56.84,317.12 57.05,317.20 57.26,317.26 57.47,317.31 57.68,317.35 57.89,317.35 58.10,317.50 58.30,317.49 58.51,317.56 58.72,317.60 58.93,317.56 59.14,317.47 59.35,317.45 59.56,317.47 59.77,317.35 59.98,317.36 60.19,317.32 60.40,317.28 60.61,317.34 60.82,317.30 61.03,317.34 61.24,317.40 61.45,317.41 61.66,317.44 61.87,317.51 62.08,317.54 62.28,317.55 62.49,317.42 62.70,317.37 62.91,317.25 63.12,317.16 63.33,317.03 63.54,316.99 63.75,316.89 63.96,316.85 64.17,316.93 64.38,316.91 64.59,317.00 64.80,317.04 65.01,317.13 65.22,317.14 65.43,317.18 65.64,317.15 65.85,317.17 66.05,317.13 66.26,317.15 66.47,317.09 66.68,317.02 66.89,317.00 67.10,317.00 67.31,317.02 67.52,316.97 67.73,317.04 67.94,317.07 68.15,317.05 68.36,317.15 68.57,317.14 68.78,317.17 68.99,317.24 69.20,317.21 69.41,317.27 69.62,317.24 69.83,317.23 70.03,317.28 70.24,317.21 70.45,317.28 70.66,317.21 70.87,317.22 71.08,317.29 71.29,317.22 71.50,317.10 71.71,317.01 71.92,317.01 72.13,316.91 72.34,316.87 72.55,316.78 72.76,316.83 72.97,316.81 73.18,316.82 73.39,316.86 73.60,316.92 73.80,316.92 74.01,316.95 74.22,316.93 74.43,317.01 74.64,316.99 74.85,317.01 75.06,316.98 75.27,317.04 75.48,317.01 75.69,317.03 75.90,317.03 76.11,317.05 76.32,317.03 76.53,317.05 76.74,317.12 76.95,317.23 77.16,317.31 77.37,317.48 77.58,317.50 77.78,317.56 77.99,317.48 78.20,317.52 78.41,317.54 78.62,317.50 78.83,317.46 79.04,317.44 79.25,317.39 79.46,317.38 79.67,317.38 79.88,317.37 80.09,317.31 80.30,317.28 80.51,317.12 80.72,317.04 80.93,316.97 81.14,316.91 81.35,316.91 81.55,316.92 81.76,317.00 81.97,317.03 82.18,317.21 82.39,317.25 82.60,317.39 82.81,317.43 83.02,317.45 83.23,317.43 83.44,317.43 83.65,317.28 83.86,317.24 84.07,317.11 84.28,317.05 84.49,316.99 84.70,316.89 84.91,316.88 85.12,316.89 85.33,316.95 85.53,317.00 85.74,317.11 85.95,317.23 86.16,317.23 86.37,317.26 86.58,317.29 86.79,317.26 87.00,317.27 87.21,317.20 87.42,317.08 87.63,317.01 87.84,316.99 88.05,316.97 88.26,316.92 88.47,316.89 88.68,316.94 88.89,316.83 89.10,316.82 89.30,316.87 89.51,316.82 89.72,316.77 89.93,316.81 90.14,316.85 90.35,316.85 90.56,316.91 90.77,317.00 90.98,317.13 91.19,317.34 91.40,317.40 91.61,317.52 91.82,317.45 92.03,317.45 92.24,317.38 92.45,317.34 92.66,317.21 92.87,317.13 93.08,317.06 93.28,316.98 93.49,316.93 93.70,316.92 93.91,317.02 94.12,316.94 94.33,316.97 94.54,316.96 94.75,316.98 94.96,316.93 95.17,316.96 95.38,316.94 95.59,317.02 95.80,317.13 96.01,317.20 96.22,317.34 96.43,317.38 96.64,317.46 96.85,317.57 97.06,317.59 97.26,317.59 97.47,317.56 97.68,317.58 97.89,317.57 98.10,317.57 98.31,317.50 98.52,317.50 98.73,317.53 98.94,317.46 99.15,317.42 99.36,317.37 99.57,317.27 99.78,317.25 99.99,317.17 100.20,317.06 100.41,317.00 100.62,316.99 100.83,317.04 101.03,317.09 101.24,317.21 101.45,317.33 101.66,317.39 101.87,317.45 102.08,317.57 102.29,317.53 102.50,317.53 102.71,317.50 102.92,317.46 103.13,317.37 103.34,317.34 103.55,317.28 103.76,317.28 103.97,317.24 104.18,317.27 104.39,317.26 104.60,317.28 104.81,317.29 105.01,317.29 105.22,317.35 105.43,317.35 105.64,317.39 105.85,317.37 106.06,317.34 106.27,317.25 106.48,317.24 106.69,317.13 106.90,317.04 107.11,316.97 107.32,316.95 107.53,316.94 107.74,317.00 107.95,317.02 108.16,317.09 108.37,317.27 108.58,317.36 108.78,317.40 108.99,317.47 109.20,317.51 109.41,317.54 109.62,317.57 109.83,317.55 110.04,317.48 110.25,317.41 110.46,317.39 110.67,317.36 110.88,317.34 111.09,317.31 111.30,317.38 111.51,317.43 111.72,317.45 111.93,317.43 112.14,317.51 112.35,317.51 112.56,317.59 112.76,317.57 112.97,317.62 113.18,317.60 113.39,317.52 113.60,317.53 113.81,317.58 114.02,317.52 114.23,317.51 114.44,317.51 114.65,317.53 114.86,317.51 115.07,317.41 115.28,317.37 115.49,317.24 115.70,317.11 115.91,317.12 116.12,317.04 116.33,316.99 116.53,317.09 116.74,317.00 116.95,317.06 117.16,317.06 117.37,317.11 117.58,317.07 117.79,317.06 118.00,317.07 118.21,317.05 118.42,317.07 118.63,317.03 118.84,317.04 119.05,316.96 119.26,316.95 119.47,316.92 119.68,316.98 119.89,316.97 120.10,316.97 120.31,316.94 120.51,316.91 120.72,316.89 120.93,316.95 121.14,316.92 121.35,316.87 121.56,316.88 121.77,316.87 121.98,316.92 122.19,316.93 122.40,316.85 122.61,316.90 122.82,316.84 123.03,316.87 123.24,316.89 123.45,316.87 123.66,316.91 123.87,316.89 124.08,316.89 124.28,316.97 124.49,317.01 124.70,316.99 124.91,317.03 125.12,317.02 125.33,317.01 125.54,317.07 125.75,317.12 125.96,317.18 126.17,317.24 126.38,317.25 126.59,317.32 126.80,317.31 127.01,317.29 127.22,317.21 127.43,317.13 127.64,317.03 127.85,316.97 128.06,316.85 128.26,316.82 128.47,316.82 128.68,316.82 128.89,316.85 129.10,316.91 129.31,317.01 129.52,317.14 129.73,317.25 129.94,317.33 130.15,317.36 130.36,317.31 130.57,317.35 130.78,317.25 130.99,317.25 131.20,317.13 131.41,317.15 131.62,317.11 131.83,317.11 132.03,317.10 132.24,317.08 132.45,317.09 132.66,317.08 132.87,317.06 133.08,317.02 133.29,317.04 133.50,317.08 133.71,317.01 133.92,317.10 134.13,317.10 134.34,317.14 134.55,317.18 134.76,317.29 134.97,317.34 135.18,317.43 135.39,317.48 135.60,317.48 135.81,317.43 136.01,317.37 136.22,317.29 136.43,317.30 136.64,317.24 136.85,317.22 137.06,317.16 137.27,317.21 137.48,317.13 137.69,317.13 137.90,317.10 138.11,317.11 138.32,317.11 138.53,317.02 138.74,317.05 138.95,317.06 139.16,317.01 139.37,317.01 139.58,317.08 139.78,317.13 139.99,317.16 140.20,317.16 140.41,317.15 140.62,317.16 140.83,317.17 141.04,317.22 141.25,317.18 141.46,317.21 141.67,317.28 141.88,317.35 142.09,317.29 142.30,317.29 142.51,317.30 142.72,317.31 142.93,317.25 143.14,317.13 143.35,317.03 143.56,316.98 143.76,316.90 143.97,316.85 144.18,316.84 144.39,316.80 144.60,316.91 144.81,317.06 145.02,317.20 145.23,317.28 145.44,317.45 145.65,317.51 145.86,317.58 146.07,317.51 146.28,317.49 146.49,317.40 146.70,317.23 146.91,317.05 147.12,316.92 147.33,316.82 147.53,316.75 147.74,316.74 147.95,316.82 148.16,316.84 148.37,317.00 148.58,317.10 148.79,317.22 149.00,317.30 149.21,317.35 149.42,317.39 149.63,317.40 149.84,317.37 150.05,317.41 150.26,317.34 150.47,317.35 150.68,317.36 150.89,317.38 151.10,317.40 151.31,317.40 151.51,317.36 151.72,317.28 151.93,317.10 152.14,317.00 152.35,316.90 152.56,316.79 152.77,316.71 152.98,316.75 153.19,316.76 153.40,316.86 153.61,316.94 153.82,317.10 154.03,317.21 154.24,317.21 154.45,317.34 154.66,317.35 154.87,317.30 155.08,317.24 155.28,317.22 155.49,317.15 155.70,317.12 155.91,317.08 156.12,316.98 156.33,316.95 156.54,316.97 156.75,317.00 156.96,317.02 157.17,317.03 157.38,317.03 157.59,317.06 157.80,317.13 158.01,317.10 158.22,317.05 158.43,317.05 158.64,316.97 158.85,316.94 159.06,316.79 159.26,316.72 159.47,316.62 159.68,316.61 159.89,316.63 160.10,316.58 160.31,316.56 160.52,316.61 160.73,316.52 160.94,316.54 161.15,316.58 161.36,316.49 161.57,316.55 161.78,316.50 161.99,316.46 162.20,316.48 162.41,316.50 162.62,316.49 162.83,316.50 163.03,316.45 163.24,316.45 163.45,316.50 163.66,316.45 163.87,316.50 164.08,316.53 164.29,316.62 164.50,316.76 164.71,316.78 164.92,316.78 165.13,316.70 165.34,316.65 165.55,316.56 165.76,316.35 165.97,316.17 166.18,315.99 166.39,315.75 166.60,315.54 166.81,315.30 167.01,315.12 167.22,315.02 167.43,314.77 167.64,314.52 167.85,314.06 168.06,313.30 168.27,311.95 168.48,309.84 168.69,306.28 168.90,300.83 169.11,292.78 169.32,281.85 169.53,267.66 169.74,250.84 169.95,232.41 170.16,214.27 170.37,199.19 170.58,189.86 170.78,188.46 170.99,195.30 171.20,208.81 171.41,226.14 171.62,244.73 171.83,262.34 172.04,277.46 172.25,289.56 172.46,298.53 172.67,304.70 172.88,308.65 173.09,311.14 173.30,312.73 173.51,313.65 173.72,314.19 173.93,314.54 174.14,314.84 174.35,315.14 174.56,315.32 174.76,315.37 174.97,315.51 175.18,315.63 175.39,315.70 175.60,315.81 175.81,315.82 176.02,315.91 176.23,315.87 176.44,315.90 176.65,315.89 176.86,315.71 177.07,315.35 177.28,314.85 177.49,314.14 177.70,313.10 177.91,311.89 178.12,310.68 178.33,309.72 178.53,309.42 178.74,309.79 178.95,310.88 179.16,312.15 179.37,313.41 179.58,314.43 179.79,315.10 180.00,315.59 180.21,315.88 180.42,315.95 180.63,316.11 180.84,316.15 181.05,316.23 181.26,316.34 181.47,316.46 181.68,316.51 181.89,316.66 182.10,316.72 182.31,316.82 182.51,316.85 182.72,316.83 182.93,316.86 183.14,316.88 183.35,316.90 183.56,316.92 183.77,316.86 183.98,316.87 184.19,316.87 184.40,316.87 184.61,316.85 184.82,316.82 185.03,316.72 185.24,316.67 185.45,316.70 185.66,316.56 185.87,316.52 186.08,316.45 186.28,316.27 186.49,316.00 186.70,315.69 186.91,315.12 187.12,314.48 187.33,313.62 187.54,312.39 187.75,310.94 187.96,309.12 188.17,306.95 188.38,304.46 188.59,301.87 188.80,299.30 189.01,297.19 189.22,295.93 189.43,295.76 189.64,296.87 189.85,298.76 190.06,301.25 190.26,303.94 190.47,306.45 190.68,308.64 190.89,310.56 191.10,312.05 191.31,313.19 191.52,314.10 191.73,314.70 191.94,315.16 192.15,315.56 192.36,315.77 192.57,316.00 192.78,316.07 192.99,316.17 193.20,316.24 193.41,316.39 193.62,316.45 193.83,316.48 194.03,316.56 194.24,316.71 194.45,316.74 194.66,316.82 194.87,316.76 195.08,316.85 195.29,316.85 195.50,316.96 195.71,317.01 195.92,317.07 196.13,317.07 196.34,317.18 196.55,317.11 196.76,317.09 196.97,317.11 197.18,316.99 197.39,316.90 197.60,316.86 197.81,316.80 198.01,316.76 198.22,316.72 198.43,316.65 198.64,316.74 198.85,316.82 199.06,316.82 199.27,316.96 199.48,316.98 199.69,317.04 199.90,317.03 200.11,317.10 200.32,317.04 200.53,317.02 200.74,316.90 200.95,316.79 201.16,316.71 201.37,316.64 201.58,316.64 201.79,316.52 201.99,316.46 202.20,316.42 202.41,316.30 202.62,316.24 202.83,316.15 203.04,316.04 203.25,315.87 203.46,315.74 203.67,315.63 203.88,315.47 204.09,315.19 204.30,314.84 204.51,314.32 204.72,313.38 204.93,312.05 205.14,310.01 205.35,306.95 205.56,302.63 205.76,296.67 205.97,289.08 206.18,279.88 206.39,269.57 206.60,258.79 206.81,248.58 207.02,240.33 207.23,235.38 207.44,234.64 207.65,238.32 207.86,245.52 208.07,255.20 208.28,265.88 208.49,276.48 208.70,286.00 208.91,294.19 209.12,300.62 209.33,305.46 209.54,308.98 209.74,311.38 209.95,312.92 210.16,313.88 210.37,314.62 210.58,314.98 210.79,315.32 211.00,315.58 211.21,315.77 211.42,315.99 211.63,316.16 211.84,316.30 212.05,316.42 212.26,316.57 212.47,316.61 212.68,316.73 212.89,316.74 213.10,316.85 213.31,316.92 213.51,317.08 213.72,317.12 213.93,317.18 214.14,317.16 214.35,317.09 214.56,317.05 214.77,316.94 214.98,316.81 215.19,316.77 215.40,316.66 215.61,316.61 215.82,316.65 216.03,316.70 216.24,316.70 216.45,316.65 216.66,316.61 216.87,316.67 217.08,316.60 217.29,316.64 217.49,316.60 217.70,316.73 217.91,316.77 218.12,316.88 218.33,317.00 218.54,317.18 218.75,317.35 218.96,317.39 219.17,317.41 219.38,317.45 219.59,317.46 219.80,317.36 220.01,317.33 220.22,317.29 220.43,317.18 220.64,317.18 220.85,317.13 221.06,317.08 221.26,317.07 221.47,317.15 221.68,317.09 221.89,317.07 222.10,317.10 222.31,317.06 222.52,317.04 222.73,317.02 222.94,317.06 223.15,317.00 223.36,317.00 223.57,317.01 223.78,316.97 223.99,316.90 224.20,316.89 224.41,316.94 224.62,316.95 224.83,316.91 225.04,317.04 225.24,317.00 225.45,317.06 225.66,317.10 225.87,317.18 226.08,317.22 226.29,317.25 226.50,317.19 226.71,317.26 226.92,317.24 227.13,317.32 227.34,317.32 227.55,317.36 227.76,317.35 227.97,317.42 228.18,317.35 228.39,317.38 228.60,317.29 228.81,317.27 229.01,317.21 229.22,317.15 229.43,317.15 229.64,317.14 229.85,317.07 230.06,317.07 230.27,317.12 230.48,317.04 230.69,317.06 230.90,317.05 231.11,317.10 231.32,317.01 231.53,317.06 231.74,317.05 231.95,317.00 232.16,316.88 232.37,316.91 232.58,316.78 232.79,316.78 232.99,316.72 233.20,316.67 233.41,316.72 233.62,316.74 233.83,316.79 234.04,316.91 234.25,316.97 234.46,317.06 234.67,317.06 234.88,317.05 235.09,316.89 235.30,316.77 235.51,316.51 235.72,316.33 235.93,316.06 236.14,315.79 236.35,315.45 236.56,315.28 236.76,315.10 236.97,314.92 237.18,314.82 237.39,314.83 237.60,314.77 237.81,314.70 238.02,314.78 238.23,314.81 238.44,314.85 238.65,314.97 238.86,315.07 239.07,315.26 239.28,315.44 239.49,315.73 239.70,315.93 239.91,316.15 240.12,316.30 240.33,316.43 240.54,316.51 240.74,316.60 240.95,316.57 241.16,316.59 241.37,316.59 241.58,316.55 241.79,316.59 242.00,316.57 242.21,316.66 242.42,316.81 242.63,316.85 242.84,316.95 243.05,317.06 243.26,317.22 243.47,317.22 243.68,317.28 243.89,317.29 244.10,317.35 244.31,317.36 244.51,317.40 244.72,317.39 244.93,317.50 245.14,317.52 245.35,317.52 245.56,317.54 245.77,317.50 245.98,317.48 246.19,317.45 246.40,317.38 246.61,317.28 246.82,317.34 247.03,317.33 247.24,317.25 247.45,317.24 247.66,317.29 247.87,317.29 248.08,317.34 248.29,317.34 248.49,317.37 248.70,317.36 248.91,317.41 249.12,317.38 249.33,317.37 249.54,317.25 249.75,317.13 249.96,317.11 250.17,317.02 250.38,316.93 250.59,316.86 250.80,316.88 251.01,316.90 251.22,316.94 251.43,316.94 251.64,317.04 251.85,317.11 252.06,317.14 252.26,317.18 252.47,317.17 252.68,317.16 252.89,317.15 253.10,317.12 253.31,317.06 253.52,316.98 253.73,316.97 253.94,316.95 254.15,316.97 254.36,316.97 254.57,317.00 254.78,317.06 254.99,317.17 255.20,317.27 255.41,317.40 255.62,317.48 255.83,317.45 256.04,317.48 256.24,317.48 256.45,317.37 256.66,317.27 256.87,317.24 257.08,317.14 257.29,317.06 257.50,317.04 257.71,317.00 257.92,317.02 258.13,317.07 258.34,317.06 258.55,317.07 258.76,317.15 258.97,317.21 259.18,317.21 259.39,317.16 259.60,317.24 259.81,317.20 260.01,317.27 260.22,317.34 260.43,317.42 260.64,317.55 260.85,317.62 261.06,317.61 261.27,317.65 261.48,317.60 261.69,317.63 261.90,317.58 262.11,317.55 262.32,317.50 262.53,317.51 262.74,317.50 262.95,317.54 263.16,317.48 263.37,317.50 263.58,317.57 263.79,317.51 263.99,317.58 264.20,317.56 264.41,317.62 264.62,317.61 264.83,317.55 265.04,317.57 265.25,317.47 265.46,317.39 265.67,317.37 265.88,317.29 266.09,317.19 266.30,317.21 266.51,317.15 266.72,317.19 266.93,317.15 267.14,317.21 267.35,317.25 267.56,317.22 267.76,317.17 267.97,317.22 268.18,317.21 268.39,317.22 268.60,317.22 268.81,317.26 269.02,317.31 269.23,317.31 269.44,317.40 269.65,317.38 269.86,317.39 270.07,317.36 270.28,317.36 270.49,317.40 270.70,317.30 270.91,317.24 271.12,317.23 271.33,317.27 271.54,317.17 271.74,317.19 271.95,317.17 272.16,317.19 272.37,317.15 272.58,317.08 272.79,317.13 273.00,317.06 273.21,317.08 273.42,317.06 273.63,317.10 273.84,317.03 274.05,317.06 274.26,317.09 274.47,317.10 274.68,317.17 274.89,317.15 275.10,317.14 275.31,317.14 275.51,317.16 275.72,317.10 275.93,317.05 276.14,317.03 276.35,316.99 276.56,316.95 276.77,316.94 276.98,316.91 277.19,316.96 277.40,317.03 277.61,317.00 277.82,317.04 278.03,317.10 278.24,317.12 278.45,317.10 278.66,317.13 278.87,317.18 279.08,317.17 279.29,317.26 279.49,317.42 279.70,317.52 279.91,317.51 280.12,317.56 280.33,317.63 280.54,317.60 280.75,317.63 280.96,317.57 281.17,317.61 281.38,317.57 281.59,317.58 281.80,317.62 282.01,317.60 282.22,317.63 282.43,317.61 282.64,317.55 282.85,317.52 283.06,317.41 283.26,317.39 283.47,317.34 283.68,317.35 283.89,317.29 284.10,317.36 284.31,317.30 284.52,317.32 284.73,317.32 284.94,317.30 285.15,317.23 285.36,317.27 285.57,317.28 285.78,317.19 285.99,317.24 286.20,317.21 286.41,317.16 286.62,317.12 286.83,317.09 287.04,317.10 287.24,317.14 287.45,317.09 287.66,317.06 287.87,317.07 288.08,317.01 288.29,316.99 288.50,316.94 288.71,316.90 288.92,316.86 289.13,316.93 289.34,316.93 289.55,316.90 289.76,316.95 289.97,316.99 290.18,317.00 290.39,317.07 290.60,317.07 290.81,317.03 291.01,317.04 291.22,317.11 291.43,317.13 291.64,317.28 291.85,317.27 292.06,317.38 292.27,317.41 292.48,317.45 292.69,317.41 292.90,317.43 293.11,317.52 293.32,317.51 293.53,317.47 293.74,317.50 293.95,317.47 294.16,317.48 294.37,317.49 294.58,317.54 294.79,317.43 294.99,317.36 295.20,317.26 295.41,317.19 295.62,317.22 295.83,317.15 296.04,317.16 296.25,317.16 296.46,317.19 296.67,317.19 296.88,317.24 297.09,317.31 297.30,317.35 297.51,317.40 297.72,317.47 297.93,317.45 298.14,317.40 298.35,317.43 298.56,317.48 298.76,317.48 298.97,317.47 299.18,317.47 299.39,317.48 299.60,317.45 299.81,317.43 300.02,317.44 300.23,317.40 300.44,317.36 300.65,317.37 300.86,317.38 301.07,317.34 301.28,317.33 301.49,317.35 301.70,317.36 301.91,317.41 302.12,317.36 302.33,317.39 302.54,317.38 302.74,317.36 302.95,317.33 303.16,317.34 303.37,317.33 303.58,317.38 303.79,317.41 304.00,317.42 304.21,317.38 304.42,317.38 304.63,317.37 304.84,317.43 305.05,317.37 305.26,317.31 305.47,317.29 305.68,317.22 305.89,317.16 306.10,317.16 306.31,317.12 306.52,317.07 306.72,317.13 306.93,317.10 307.14,317.21 307.35,317.18 307.56,317.28 307.77,317.33 307.98,317.37 308.19,317.36 308.40,317.39 308.61,317.34 308.82,317.30 309.03,317.17 309.24,317.12 309.45,317.09 309.66,317.05 309.87,316.97 310.08,317.03 310.29,317.00 310.49,317.03 310.70,317.06 310.91,317.12 311.12,317.09 311.33,317.14 311.54,317.16 311.75,317.17 311.96,317.14 312.17,317.16 312.38,317.21 312.59,317.26 312.80,317.30 313.01,317.28 313.22,317.34 313.43,317.36 313.64,317.32 313.85,317.30 314.06,317.37 314.27,317.26 314.47,317.29 314.68,317.26 314.89,317.21 315.10,317.23 315.31,317.21 315.52,317.20 315.73,317.21 315.94,317.07 316.15,317.02 316.36,316.99 316.57,316.92 316.78,316.82 316.99,316.82 317.20,316.83 317.41,316.92 317.62,316.94 317.83,317.00 318.04,317.10 318.24,317.16 318.45,317.17 318.66,317.22 318.87,317.19 319.08,317.12 319.29,317.05 319.50,316.99 319.71,316.92 319.92,316.78 320.13,316.63 320.34,316.57 320.55,316.48 320.76,316.30 320.97,316.13 321.18,315.77 321.39,315.29 321.60,314.47 321.81,313.18 322.02,311.22 322.22,308.27 322.43,304.13 322.64,298.58 322.85,291.53 323.06,283.32 323.27,274.28 323.48,265.16 323.69,257.12 323.90,251.02 324.11,248.07 324.32,248.71 324.53,252.88 324.74,259.78 324.95,268.32 325.16,277.52 325.37,286.29 325.58,294.13 325.79,300.64 325.99,305.59 326.20,309.30 326.41,311.87 326.62,313.46 326.83,314.58 327.04,315.23 327.25,315.62 327.46,315.91 327.67,316.11 327.88,316.19 328.09,316.37 328.30,316.52 328.51,316.66 328.72,316.79 328.93,316.87 329.14,316.93 329.35,316.89 329.56,316.94 329.77,317.00 329.97,317.00 330.18,316.97 330.39,316.92 330.60,316.96 330.81,316.95 331.02,316.97 331.23,317.00 331.44,317.07 331.65,317.12 331.86,317.21 332.07,317.22 332.28,317.27 332.49,317.33 332.70,317.34 332.91,317.29 333.12,317.37 333.33,317.29 333.54,317.29 333.74,317.23 333.95,317.23 334.16,317.29 334.37,317.22 334.58,317.23 334.79,317.30 335.00,317.26 335.21,317.33 335.42,317.34 335.63,317.40 335.84,317.38 336.05,317.38 336.26,317.37 336.47,317.36 336.68,317.29 336.89,317.24 337.10,317.18 337.31,317.14 337.52,317.13 337.72,317.11 337.93,317.04 338.14,317.04 338.35,317.07 338.56,317.14 338.77,317.17 338.98,317.18 339.19,317.26 339.40,317.27 339.61,317.27 339.82,317.34 340.03,317.28 340.24,317.32 340.45,317.37 340.66,317.36 340.87,317.41 341.08,317.36 341.29,317.43 341.49,317.35 341.70,317.44 341.91,317.40 342.12,317.37 342.33,317.41 342.54,317.50 342.75,317.48 342.96,317.49 343.17,317.50 343.38,317.41 343.59,317.40 343.80,317.36 344.01,317.33 344.22,317.26 344.43,317.12 344.64,317.16 344.85,317.10 345.06,317.08 345.27,317.09 345.47,317.18 345.68,317.25 345.89,317.32 346.10,317.38 346.31,317.49 346.52,317.48 346.73,317.47 346.94,317.52 347.15,317.46 347.36,317.49 347.57,317.46 347.78,317.48 347.99,317.55 348.20,317.52 348.41,317.51 348.62,317.52 348.83,317.50 349.04,317.47 349.24,317.43 349.45,317.38 349.66,317.34 349.87,317.33 350.08,317.35 350.29,317.31 350.50,317.40 350.71,317.39 350.92,317.42 351.13,317.47 351.34,317.53 351.55,317.53 351.76,317.61 351.97,317.58 352.18,317.54 352.39,317.53 352.60,317.61 352.81,317.58 353.02,317.54 353.22,317.58 353.43,317.51 353.64,317.59 353.85,317.58 354.06,317.51 354.27,317.40 354.48,317.37 354.69,317.34 354.90,317.25 355.11,317.16 355.32,317.14 355.53,317.12 355.74,317.15 355.95,317.11 356.16,317.13 356.37,317.16 356.58,317.15 356.79,317.10 356.99,317.11 357.20,317.02 357.41,317.05 357.62,316.96 357.83,316.81 358.04,316.70 358.25,316.44 358.46,316.25 358.67,315.86 358.88,315.50 359.09,314.98 359.30,314.41 359.51,313.76 359.72,313.08 359.93,312.57 360.14,312.30 360.35,312.33 360.56,312.63 360.77,313.13 360.97,313.87 361.18,314.60 361.39,315.26 361.60,315.85 361.81,316.34 362.02,316.67 362.23,316.91 362.44,317.09 362.65,317.23 362.86,317.22 363.07,317.23 363.28,317.22 363.49,317.09 363.70,317.14 363.91,317.04 364.12,317.05 364.33,317.12 364.54,317.15 364.74,317.17 364.95,317.20 365.16,317.26 365.37,317.27 365.58,317.27 365.79,317.29 366.00,317.28 366.21,317.28 366.42,317.38 366.63,317.39 366.84,317.33 367.05,317.35 367.26,317.34 367.47,317.39 367.68,317.37 367.89,317.34 368.10,317.41 368.31,317.42 368.52,317.33 368.72,317.38 368.93,317.36 369.14,317.40 369.35,317.37 369.56,317.35 369.77,317.31 369.98,317.27 370.19,317.18 370.40,317.10 370.61,317.04 370.82,316.97 371.03,316.99 371.24,316.95 371.45,317.02 371.66,317.10 371.87,317.15 372.08,317.24 372.29,317.35 372.49,317.41 372.70,317.39 372.91,317.42 373.12,317.39 373.33,317.35 373.54,317.39 373.75,317.33 373.96,317.29 374.17,317.24 374.38,317.23 374.59,317.29 374.80,317.26 375.01,317.27 375.22,317.31 375.43,317.34 375.64,317.33 375.85,317.29 376.06,317.38 376.27,317.30 376.47,317.34 376.68,317.33 376.89,317.27 377.10,317.29 377.31,317.23 377.52,317.20 377.73,317.12 377.94,317.17 378.15,317.11 378.36,317.15 378.57,317.18 378.78,317.17 378.99,317.19 379.20,317.23 379.41,317.31 379.62,317.30 379.83,317.28 380.04,317.29 380.24,317.31 380.45,317.29 380.66,317.29 380.87,317.32 381.08,317.38 381.29,317.40 381.50,317.44 381.71,317.40 381.92,317.42 382.13,317.41 382.34,317.34 382.55,317.31 382.76,317.30 382.97,317.27 383.18,317.30 383.39,317.27 383.60,317.23 383.81,317.32 384.02,317.28 384.22,317.32 384.43,317.31 384.64,317.32 384.85,317.32 385.06,317.27 385.27,317.25 385.48,317.25 385.69,317.13 385.90,317.00 386.11,316.96 386.32,316.86 386.53,316.79 386.74,316.72 386.95,316.68 387.16,316.75 387.37,316.71 387.58,316.76 387.79,316.78 387.99,316.75 388.20,316.73 388.41,316.79 388.62,316.81 388.83,316.79 389.04,316.85 389.25,316.80 389.46,316.88 389.67,316.89 389.88,316.92 390.09,316.91 390.30,316.90 390.51,316.92 390.72,316.93 390.93,316.97 391.14,316.96 391.35,316.96 391.56,316.99 391.77,316.98 391.97,316.95 392.18,316.91 392.39,316.90 392.60,316.80 392.81,316.67 393.02,316.59 393.23,316.52 393.44,316.46 393.65,316.39 393.86,316.32 394.07,316.32 394.28,316.24 394.49,316.22 394.70,316.23 394.91,316.17 395.12,316.04 395.33,315.92 395.54,315.59 395.74,315.32 395.95,314.94 396.16,314.43 396.37,313.73 396.58,313.01 396.79,312.06 397.00,311.01 397.21,309.68 397.42,308.27 397.63,306.63 397.84,304.85 398.05,302.83 398.26,300.81 398.47,298.75 398.68,296.86 398.89,295.01 399.10,293.58 399.31,292.36 399.52,291.66 399.72,291.54 399.93,291.81 400.14,292.64 400.35,293.82 400.56,295.35 400.77,297.12 400.98,299.06 401.19,300.91 401.40,302.89 401.61,304.71 401.82,306.41 402.03,307.94 402.24,309.39 402.45,310.66 402.66,311.71 402.87,312.58 403.08,313.36 403.29,314.00 403.49,314.44 403.70,314.77 403.91,315.08 404.12,315.36 404.33,315.50 404.54,315.65 404.75,315.82 404.96,315.91 405.17,316.02 405.38,316.05 405.59,316.16 405.80,316.21 406.01,316.20 406.22,316.25 406.43,316.25 406.64,316.29 406.85,316.26 407.06,316.23 407.27,316.16 407.47,316.08 407.68,315.87 407.89,315.70 408.10,315.57 408.31,315.34 408.52,315.04 408.73,314.94 408.94,314.78 409.15,314.76 409.36,314.79 409.57,314.89 409.78,315.06 409.99,315.35 410.20,315.58 410.41,315.78 410.62,315.96 410.83,316.15 411.04,316.35 411.25,316.42 411.45,316.48 411.66,316.62 411.87,316.65 412.08,316.59 412.29,316.59 412.50,316.65 412.71,316.62 412.92,316.63 413.13,316.67 413.34,316.67 413.55,316.76 413.76,316.79 413.97,316.86 414.18,316.96 414.39,317.00 414.60,317.08 414.81,317.01 415.02,317.09 415.22,317.02 415.43,317.02 415.64,316.98 415.85,316.99 416.06,317.05 416.27,316.98 416.48,317.03 416.69,317.05 416.90,317.04 417.11,317.02 417.32,317.08 417.53,317.08 417.74,317.12 417.95,317.15 418.16,317.14 418.37,317.18 418.58,317.16 418.79,317.13 419.00,317.11 419.20,317.09 419.41,317.07 419.62,317.09 419.83,317.04 420.04,317.06 420.25,316.99 420.46,316.97 420.67,316.81 420.88,316.73 421.09,316.57 421.30,316.34 421.51,315.98 421.72,315.69 421.93,315.20 422.14,314.75 422.35,314.17 422.56,313.66 422.77,313.19 422.97,312.98 423.18,312.95 423.39,313.29 423.60,313.74 423.81,314.26 424.02,314.74 424.23,315.21 424.44,315.58 424.65,315.83 424.86,316.04 425.07,316.13 425.28,316.31 425.49,316.46 425.70,316.56 425.91,316.63 426.12,316.72 426.33,316.78 426.54,316.88 426.75,316.90 426.95,316.88 427.16,316.88 427.37,316.91 427.58,316.85 427.79,316.82 428.00,316.76 428.21,316.75 428.42,316.69 428.63,316.69 428.84,316.65 429.05,316.60 429.26,316.53 429.47,316.37 429.68,316.29 429.89,316.20 430.10,316.12 430.31,315.94 430.52,315.72 430.72,315.49 430.93,315.26 431.14,314.97 431.35,314.69 431.56,314.46 431.77,314.13 431.98,313.89 432.19,313.73 432.40,313.54 432.61,313.56 432.82,313.58 433.03,313.71 433.24,313.88 433.45,314.10 433.66,314.29 433.87,314.55 434.08,314.77 434.29,314.98 434.50,315.22 434.70,315.35 434.91,315.55 435.12,315.68 435.33,315.78 435.54,315.94 435.75,316.13 435.96,316.27 436.17,316.30 436.38,316.36 436.59,316.41 436.80,316.44 437.01,316.45 437.22,316.52 437.43,316.51 437.64,316.52 437.85,316.60 438.06,316.70 438.27,316.76 438.47,316.87 438.68,316.91 438.89,317.02 439.10,317.06 439.31,317.04 439.52,316.94 439.73,316.83 439.94,316.73 440.15,316.59 440.36,316.40 440.57,316.28 440.78,316.13 440.99,315.96 441.20,315.85 441.41,315.75 441.62,315.60 441.83,315.42 442.04,315.26 442.25,315.14 442.45,314.95 442.66,314.75 442.87,314.60 443.08,314.47 443.29,314.42 443.50,314.42 443.71,314.42 443.92,314.54 444.13,314.70 444.34,314.90 444.55,315.08 444.76,315.32 444.97,315.64 445.18,315.80 445.39,316.09 445.60,316.26 445.81,316.46 446.02,316.61 446.22,316.71 446.43,316.81 446.64,317.01 446.85,317.03 447.06,317.15 447.27,317.30 447.48,317.34 447.69,317.38 447.90,317.47 448.11,317.51 448.32,317.43 448.53,317.48 448.74,317.44 448.95,317.49 449.16,317.44 449.37,317.46 449.58,317.44 449.79,317.38 450.00,317.39 450.20,317.38 450.41,317.28 450.62,317.21 450.83,317.25 451.04,317.20 451.25,317.15 451.46,317.10 451.67,317.18 451.88,317.25 452.09,317.28 452.30,317.34 452.51,317.37 452.72,317.44 452.93,317.50 453.14,317.47 453.35,317.43 453.56,317.42 453.77,317.48 453.97,317.44 454.18,317.43 454.39,317.33 454.60,317.32 454.81,317.37 455.02,317.34 455.23,317.33 455.44,317.27 455.65,317.29 455.86,317.25 456.07,317.21 456.28,317.15 456.49,317.14 456.70,317.13 456.91,317.13 457.12,317.09 457.33,317.08 457.54,317.09 457.75,317.04 457.95,316.95 458.16,316.99 458.37,317.00 458.58,316.96 458.79,317.05 459.00,317.11 459.21,317.09 459.42,317.22 459.63,317.25 459.84,317.30 460.05,317.33 460.26,317.37 460.47,317.34 460.68,317.37 460.89,317.30 461.10,317.35 461.31,317.30 461.52,317.28 461.72,317.34 461.93,317.32 462.14,317.30 462.35,317.41 462.56,317.42 462.77,317.50 462.98,317.58 463.19,317.57 463.40,317.62 463.61,317.63 463.82,317.61 464.03,317.63 464.24,317.68 464.45,317.65 464.66,317.61 464.87,317.66 465.08,317.65 465.29,317.63 465.50,317.65 465.70,317.60 465.91,317.60 466.12,317.51 466.33,317.50 466.54,317.40 466.75,317.35 466.96,317.34 467.17,317.32 467.38,317.38 467.59,317.37 467.80,317.28 468.01,317.22 468.22,317.25 468.43,317.21 468.64,317.13 468.85,317.13 469.06,317.17 469.27,317.17 469.47,317.25 469.68,317.34 469.89,317.40 470.10,317.47 470.31,317.57 470.52,317.56 470.73,317.62 470.94,317.56 471.15,317.44 471.36,317.27 471.57,317.19 471.78,317.02 471.99,316.98 472.20,316.88 472.41,316.89 472.62,316.90 472.83,316.91 473.04,316.93 473.25,316.90 473.45,316.90 473.66,316.93 473.87,317.00 474.08,316.91 474.29,316.95 474.50,316.99 474.71,317.06 474.92,317.17 475.13,317.17 475.34,317.22 475.55,317.26 475.76,317.31 475.97,317.35 476.18,317.33 476.39,317.35 476.60,317.35 476.81,317.34 477.02,317.35 477.22,317.32 477.43,317.41 477.64,317.39 477.85,317.30 478.06,317.27 478.27,317.27 478.48,317.17 478.69,317.12 478.90,317.07 479.11,316.97 479.32,317.02 479.53,316.97 479.74,317.01 479.95,317.13 480.16,317.21 480.37,317.23 480.58,317.30 480.79,317.38 481.00,317.36 481.20,317.38 481.41,317.45 481.62,317.39 481.83,317.51 482.04,317.55 482.25,317.59 482.46,317.55 482.67,317.56 482.88,317.58 483.09,317.53 483.30,317.56 483.51,317.46 483.72,317.41 483.93,317.30 484.14,317.24 484.35,317.24 484.56,317.14 484.77,317.16 484.97,317.22 485.18,317.20 485.39,317.23 485.60,317.26 485.81,317.25 486.02,317.23 486.23,317.25 486.44,317.23 486.65,317.18 486.86,317.17 487.07,317.20 487.28,317.13 487.49,317.05 487.70,317.09 487.91,317.11 488.12,317.08 488.33,317.07 488.54,317.07 488.75,317.09 488.95,317.10 489.16,317.10 489.37,317.15 489.58,317.15 489.79,317.14 490.00,317.16 490.21,317.21 490.42,317.24 490.63,317.37 490.84,317.45 491.05,317.53 491.26,317.67 491.47,317.63 491.68,317.69 491.89,317.65 492.10,317.54 492.31,317.42 492.52,317.35 492.72,317.31 492.93,317.25 493.14,317.18 493.35,317.20 493.56,317.18 493.77,317.29 493.98,317.38 494.19,317.46 494.40,317.53 494.61,317.60 494.82,317.59 495.03,317.63 495.24,317.64 495.45,317.61 495.66,317.60 495.87,317.68 496.08,317.65 496.29,317.63 496.50,317.64 496.70,317.65 496.91,317.63 497.12,317.58 497.33,317.55 497.54,317.56 497.75,317.51 497.96,317.39 498.17,317.42 498.38,317.38 498.59,317.35 498.80,317.37 499.01,317.29 499.22,317.29 499.43,317.23 499.64,317.18 499.85,317.09 500.06,317.14 500.27,317.14 500.47,317.14 500.68,317.15 500.89,317.28 501.10,317.33 501.31,317.48 501.52,317.55 501.73,317.63 501.94,317.65 502.15,317.62 502.36,317.63 502.57,317.56 502.78,317.48 502.99,317.43 503.20,317.34 503.41,317.27 503.62,317.34 503.83,317.24 504.04,317.32 504.25,317.27 504.45,317.22 504.66,317.24 504.87,317.24 505.08,317.19 505.29,317.23 505.50,317.17 505.71,317.20 505.92,317.23 506.13,317.23 506.34,317.15 506.55,317.16 506.76,317.20 506.97,317.13 507.18,317.11 507.39,317.13 507.60,317.23 507.81,317.25 508.02,317.38 508.22,317.50 508.43,317.57 508.64,317.60 508.85,317.67 509.06,317.66 509.27,317.65 509.48,317.62 509.69,317.59 509.90,317.49 510.11,317.40 510.32,317.37 510.53,317.30 510.74,317.25 510.95,317.29 511.16,317.24 511.37,317.21 511.58,317.20 511.79,317.17 512.00,317.10 512.20,317.12 512.41,317.17 512.62,317.12 512.83,317.12 513.04,317.15 513.25,317.20 513.46,317.21 513.67,317.23 513.88,317.27 514.09,317.25 514.30,317.29 514.51,317.25 514.72,317.24 514.93,317.16 515.14,317.14 515.35,317.04 515.56,317.03 515.77,317.00 515.98,316.94 516.18,316.97 516.39,317.04 516.60,317.13 516.81,317.21 517.02,317.29 517.23,317.35 517.44,317.41 517.65,317.36 517.86,317.35 518.07,317.34 518.28,317.39 518.49,317.30 518.70,317.29 518.91,317.24 519.12,317.30 519.33,317.22 519.54,317.22 519.75,317.25 519.95,317.25 520.16,317.16 520.37,317.19 520.58,317.17 520.79,317.15 521.00,317.13 521.21,317.16 521.42,317.17 521.63,317.22 521.84,317.22 522.05,317.27 522.26,317.38 522.47,317.40 522.68,317.51 522.89,317.52 523.10,317.54 523.31,317.56 523.52,317.55 523.73,317.55 523.93,317.52 524.14,317.57 524.35,317.57 524.56,317.53 524.77,317.59 524.98,317.51 525.19,317.44 525.40,317.30 525.61,317.24 525.82,317.09 526.03,317.02 526.24,316.96 526.45,316.91 526.66,316.93 526.87,316.96 527.08,317.00 527.29,317.13 527.50,317.22 527.70,317.20 527.91,317.25 528.12,317.32 528.33,317.28 528.54,317.30 528.75,317.26 528.96,317.21 529.17,317.23 529.38,317.17 529.59,317.18 529.80,317.09 530.01,317.10 530.22,317.16 530.43,317.24 530.64,317.29 530.85,317.36 531.06,317.48 531.27,317.58 531.48,317.67 531.68,317.66 531.89,317.67 532.10,317.66 532.31,317.60 532.52,317.59 532.73,317.60 532.94,317.57 533.15,317.52 533.36,317.49" fill="none" stroke="#ff0000" stroke-width="2.2" stroke-linejoin="round"/>
<g fill="#000">
<polygon points="168.6,47.8 172.1,51.9 168.6,56.0 165.1,51.9"/>
<polygon points="207.6,67.4 211.1,71.5 207.6,75.6 204.1,71.5"/>
<polygon points="325.1,119.6 328.6,123.7 325.1,127.8 321.6,123.7"/>
<polygon points="398.4,142.9 401.9,147.0 398.4,151.1 394.9,147.0"/>
<polygon points="423.2,150.4 426.7,154.5 423.2,158.6 419.7,154.5"/>
<polygon points="509.6,159.0 513.1,163.1 509.6,167.2 506.1,163.1"/>
<polygon points="172.0,179.6 175.5,183.7 172.0,187.8 168.5,183.7"/>
<polygon points="206.7,220.5 210.2,224.6 206.7,228.7 203.2,224.6"/>
<polygon points="325.3,235.9 328.8,240.0 325.3,244.1 321.8,240.0"/>
<polygon points="400.0,281.7 403.5,285.8 400.0,289.9 396.5,285.8"/>
<polygon points="424.5,300.8 428.0,304.9 424.5,309.0 421.0,304.9"/>
<polygon points="364.0,63.2 367.5,67.3 364.0,71.4 360.5,67.3"/>
</g>
<g fill="none" stroke="#000" stroke-width="2.1">
<circle cx="179.5" cy="299.0" r="4.0"/>
<circle cx="191.3" cy="283.9" r="4.0"/>
<circle cx="204.4" cy="292.7" r="4.0"/>
<circle cx="361.3" cy="302.4" r="4.0"/>
<circle cx="460.1" cy="68.3" r="4.3" stroke-width="2.1"/>
</g>
<!-- ticks -->
<g font-size="15" style="stroke-width:0.1px">
<line x1="79.6" y1="379" x2="79.6" y2="386" stroke="#111" stroke-width="1.8"/>
<text x="79.6" y="399.2" text-anchor="middle">20</text>
<line x1="149.4" y1="379" x2="149.4" y2="386" stroke="#111" stroke-width="1.8"/>
<text x="149.4" y="399.2" text-anchor="middle">30</text>
<line x1="219.2" y1="379" x2="219.2" y2="386" stroke="#111" stroke-width="1.8"/>
<text x="219.2" y="399.2" text-anchor="middle">40</text>
<line x1="289.1" y1="379" x2="289.1" y2="386" stroke="#111" stroke-width="1.8"/>
<text x="289.1" y="399.2" text-anchor="middle">50</text>
<line x1="358.9" y1="379" x2="358.9" y2="386" stroke="#111" stroke-width="1.8"/>
<text x="358.9" y="399.2" text-anchor="middle">60</text>
<line x1="428.7" y1="379" x2="428.7" y2="386" stroke="#111" stroke-width="1.8"/>
<text x="428.7" y="399.2" text-anchor="middle">70</text>
<line x1="498.5" y1="379" x2="498.5" y2="386" stroke="#111" stroke-width="1.8"/>
<text x="498.5" y="399.2" text-anchor="middle">80</text>
</g>
<!-- labels -->
<text x="310.7" y="423.2" font-size="19.8" text-anchor="middle" textLength="145.5" lengthAdjust="spacingAndGlyphs">2 theta (degree)</text>
<text transform="translate(24.8,203.6) rotate(-90)" font-size="19" text-anchor="middle" textLength="128" lengthAdjust="spacingAndGlyphs">Intensity (a.u.)</text>
<text x="53.2" y="167.6" font-size="24.3">a</text>
<text x="53.0" y="310.6" font-size="24.3">b</text>
<!-- legend -->
<line x1="351.8" y1="29" x2="364.4" y2="29" stroke="#0000f0" stroke-width="2.6" stroke-linecap="round"/>
<line x1="352.8" y1="46.6" x2="365.1" y2="46.6" stroke="#ff0000" stroke-width="2.6" stroke-linecap="round"/>
<text x="374" y="34.6" font-size="16.2" xml:space="preserve" style="white-space:pre" textLength="141.2" lengthAdjust="spacingAndGlyphs">a  ZrC/SiC  coating</text>
<text x="374" y="52.4" font-size="16.2" xml:space="preserve" style="white-space:pre" textLength="143.7" lengthAdjust="spacingAndGlyphs">b  ZrC-SiC  coating</text>
<text x="376.2" y="73.3" font-size="16.2" textLength="31" lengthAdjust="spacingAndGlyphs">ZrC</text>
<text x="473.5" y="73.3" font-size="16.2" textLength="25.8" lengthAdjust="spacingAndGlyphs">SiC</text>
<!-- pdf labels -->
<text x="406.2" y="338.4" font-size="16.2" textLength="112.6" lengthAdjust="spacingAndGlyphs">SiC pdf:73-1663</text>
<text x="404.1" y="366.9" font-size="16.2" textLength="116.5" lengthAdjust="spacingAndGlyphs">ZrC pdf:65-4932</text>
</svg>
</body></html>
